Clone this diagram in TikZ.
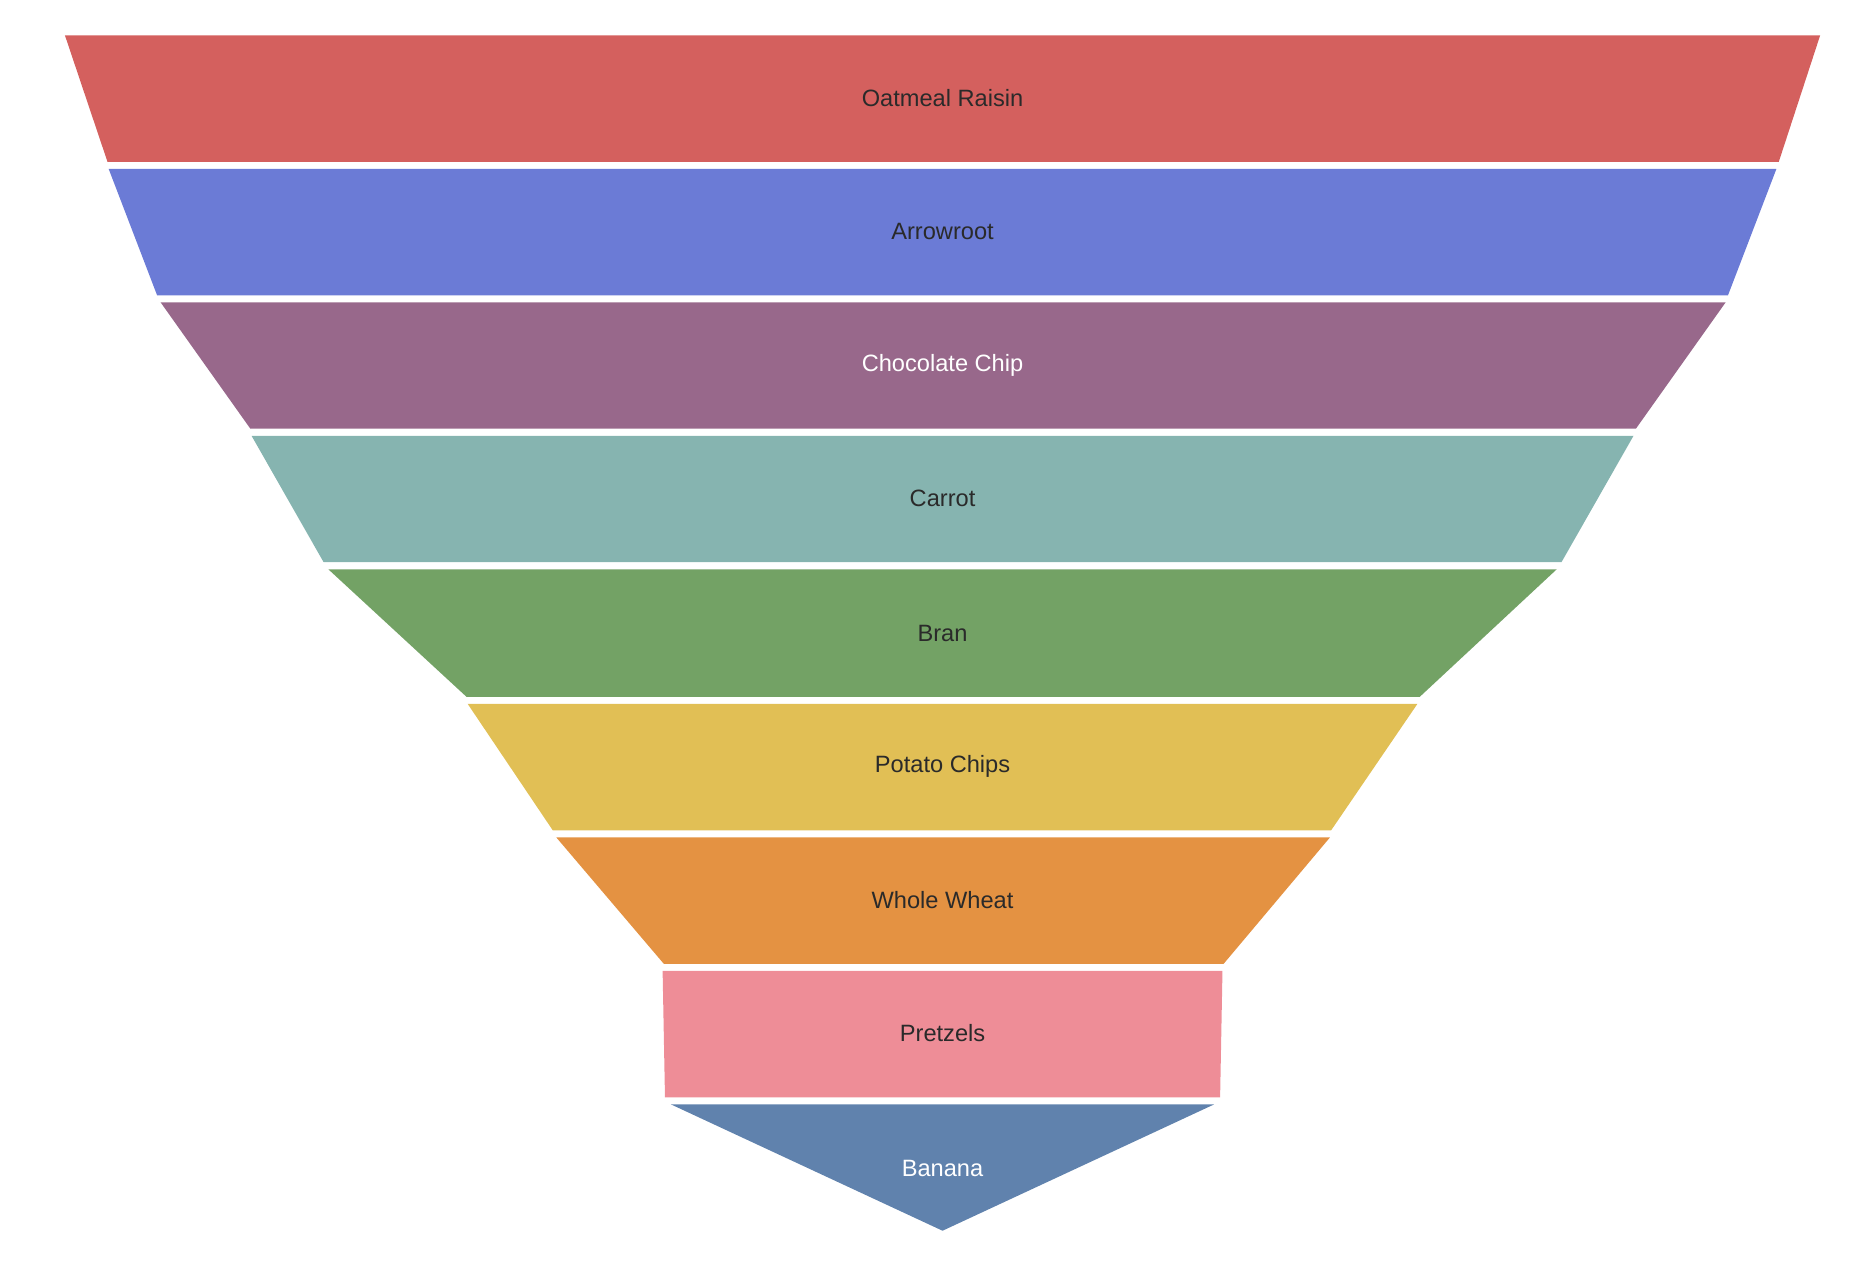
\documentclass[tikz,border=0pt]{standalone}
\usepackage{fontspec}
\setmainfont{Liberation Sans}
\definecolor{c1}{HTML}{D4605E}
\definecolor{c2}{HTML}{6B7BD6}
\definecolor{c3}{HTML}{98688B}
\definecolor{c4}{HTML}{86B4B0}
\definecolor{c5}{HTML}{73A265}
\definecolor{c6}{HTML}{E1BF55}
\definecolor{c7}{HTML}{E49242}
\definecolor{c8}{HTML}{EE8D97}
\definecolor{c9}{HTML}{6082AD}
\definecolor{tx}{HTML}{2A2A2A}
\begin{document}
\begin{tikzpicture}[x=0.5pt,y=-0.5pt,lbl/.style={font=\fontsize{10}{12}\selectfont,text=tx}]
\useasboundingbox (0,0) rectangle (1568,1085);
\fill[c1] (55,30) -- (1541,30) -- (1506,137) -- (91,137) -- cycle;
\fill[c2] (92,143) -- (1504,143) -- (1463,250) -- (133,250) -- cycle;
\fill[c3] (136,256) -- (1461,256) -- (1385,363) -- (212,363) -- cycle;
\fill[c4] (213,369) -- (1383,369) -- (1322,476) -- (274,476) -- cycle;
\fill[c5] (278,482) -- (1318,482) -- (1202,590) -- (395,590) -- cycle;
\fill[c6] (396,596) -- (1200,596) -- (1127,703) -- (468,703) -- cycle;
\fill[c7] (471,709) -- (1126,709) -- (1036,816) -- (562,816) -- cycle;
\fill[c8] (561,822) -- (1035,822) -- (1033,929) -- (563,929) -- cycle;
\fill[c9] (568,935) -- (1028,935) -- (798,1042) -- cycle;
\node[lbl] (n1) at (798,83) {Oatmeal Raisin};
\node[lbl] (n2) at (798,196) {Arrowroot};
\node[lbl,text=white] (n3) at (798,309) {Chocolate Chip};
\node[lbl] (n4) at (798,422) {Carrot};
\node[lbl] (n5) at (798,536) {Bran};
\node[lbl] (n6) at (798,649) {Potato Chips};
\node[lbl] (n7) at (798,762) {Whole Wheat};
\node[lbl] (n8) at (798,875) {Pretzels};
\node[lbl,text=white] (n9) at (798,989) {Banana};
\end{tikzpicture}
\end{document}
